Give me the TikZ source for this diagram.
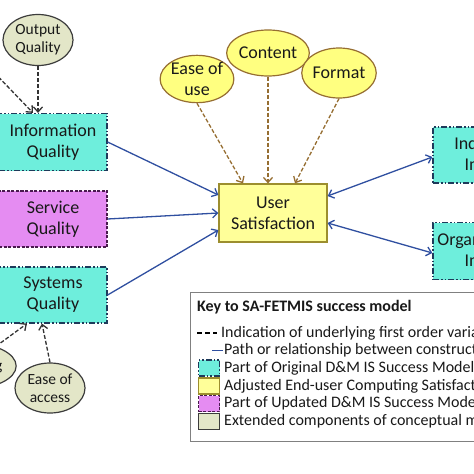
\documentclass[tikz,border=0pt]{standalone}
\usepackage{fontspec}
\setmainfont{Carlito}
\usepackage{tikz}
\usetikzlibrary{shapes, arrows, positioning, calc, arrows.meta}

\definecolor{origfill}{RGB}{110,238,220}
\definecolor{origline}{RGB}{30,58,90}
\definecolor{updfill}{RGB}{229,140,242}
\definecolor{updline}{RGB}{74,26,78}
\definecolor{ecsfill}{RGB}{255,255,153}
\definecolor{ecsline}{RGB}{156,142,46}
\definecolor{varfill}{RGB}{255,255,128}
\definecolor{varline}{RGB}{150,110,50}
\definecolor{extfill}{RGB}{227,230,200}
\definecolor{extline}{RGB}{60,60,60}
\definecolor{relblue}{RGB}{47,79,160}
\definecolor{keyline}{RGB}{128,128,128}
\definecolor{txt}{RGB}{25,25,25}

\newcommand{\mainfs}{\fontsize{18}{21}\selectfont}
\newcommand{\ellfs}{\fontsize{15.5}{18}\selectfont}
\newcommand{\keyfs}{\fontsize{16}{19}\selectfont}

\begin{document}
\begin{tikzpicture}[
    x=1pt, y=-1pt,
    box/.style={rectangle, line width=1.2pt, text=txt, align=center, font=\mainfs, minimum width=108pt, minimum height=57pt},
    origbox/.style={box, draw=origline, fill=origfill, dash pattern=on 6pt off 2pt on 1.5pt off 2pt on 1.5pt off 2pt},
    updbox/.style={box, draw=updline, fill=updfill, dash pattern=on 3pt off 1.5pt},
    ecsbox/.style={box, draw=ecsline, fill=ecsfill},
    varell/.style={ellipse, draw=varline, fill=varfill, line width=1.2pt, text=txt, align=center, font=\mainfs, inner sep=0pt},
    extell/.style={ellipse, draw=extline, fill=extfill, line width=1.2pt, text=txt, align=center, font=\ellfs, inner sep=0pt},
    relarrow/.style={-{Straight Barb[length=5pt,width=9pt]}, draw=relblue, line width=1.3pt},
    subarrow/.style={-{Straight Barb[length=5pt,width=9pt]}, draw=black!80, line width=1.3pt, dash pattern=on 4pt off 2pt},
    varsub/.style={subarrow, draw=varline},
    keytext/.style={anchor=west, text=txt, font=\keyfs, inner sep=0pt}
]
    \useasboundingbox (0,0) rectangle (474,474);
    \clip (0,0) rectangle (474,474);

    % Original D&M constructs
    \node[origbox] (infoq) at (53,142) {Information\\Quality};
    \node[updbox, minimum height=56pt] (servq) at (53,219) {Service\\Quality};
    \node[origbox, minimum height=56pt] (sysq) at (53,295) {Systems\\Quality};
    \node[ecsbox, minimum height=58pt] (usersat) at (273,213) {User\\Satisfaction};
    \node[origbox, minimum width=114pt, minimum height=56pt] (indimp) at (490,155) {Individual\\Impact};
    \node[origbox, minimum width=114pt] (orgimp) at (490,251) {Organizational\\Impact};

    % first order variables
    \node[extell, minimum width=70pt, minimum height=51pt] (outq) at (38,40) {Output\\Quality};
    \node[extell, minimum width=70pt, minimum height=50pt] (easeacc) at (50,388) {Ease of\\access};
    \node[extell, minimum width=92pt, minimum height=46pt] (procg) at (-31,366) {Processing};
    \coordinate (offleft) at (-14,64);
    \node[varell, minimum width=71pt, minimum height=42pt] (easeuse) at (197,79) {Ease of\\use};
    \node[varell, minimum width=68pt, minimum height=46pt] (content) at (268,53) {Content};
    \node[varell, minimum width=70pt, minimum height=50pt] (format) at (339,73) {Format};

    % underlying variables
    \draw[subarrow] (outq.south) -- (outq.south |- infoq.north);
    \draw[subarrow] (offleft) -- ([xshift=-20pt]infoq.north);
    \draw[subarrow] (easeacc.north) -- ([xshift=-11pt]sysq.south);
    \draw[subarrow] (procg) -- ([xshift=-26pt]sysq.south);
    \draw[varsub] (easeuse.south) -- ([xshift=-30pt]usersat.north);
    \draw[varsub] (content.south) -- (content.south |- usersat.north);
    \draw[varsub] (format.south) -- ([xshift=22pt]usersat.north);

    % paths
    \draw[relarrow] (infoq.east) -- ([yshift=18pt]usersat.west);
    \draw[relarrow] (servq.east) -- (usersat.west);
    \draw[relarrow] (sysq.east) -- ([yshift=-17pt]usersat.west);
    \draw[relarrow, {Straight Barb[length=5pt,width=9pt]}-{Straight Barb[length=5pt,width=9pt]}] ([yshift=17pt]usersat.east) -- ([yshift=-2pt]indimp.west);
    \draw[relarrow, {Straight Barb[length=5pt,width=9pt]}-{Straight Barb[length=5pt,width=9pt]}] ([yshift=-10pt]usersat.east) -- ([yshift=-2pt]orgimp.west);

    % Key
    \node[draw=keyline, line width=1pt, fill=white, minimum width=420pt, minimum height=149pt, anchor=north west] (keybox) at (190,292) {};
    \node[keytext, font=\keyfs\bfseries] (keytitle) at (197,307) {Key to SA-FETMIS success model};
    \coordinate (dashA) at (197,333);
    \coordinate (dashB) at (217,333);
    \draw[black, line width=1.8pt, dash pattern=on 5pt off 3pt] (dashA) -- (dashB);
    \node[keytext] (keyvar) at (221,333) {Indication of underlying first order variables};
    \coordinate (lineA) at (212,350.5);
    \coordinate (lineB) at (223,350.5);
    \draw[relblue, line width=1.3pt] (lineA) -- (lineB);
    \node[keytext] (keypath) at (224,350.5) {Path or relationship between constructs};
    \node[origbox, minimum width=21pt, minimum height=16pt, anchor=west] (keyorig) at (198,368) {};
    \node[keytext] (keyorigt) at (224,368) {Part of Original D\&M IS Success Model};
    \node[ecsbox, minimum width=21pt, minimum height=16pt, anchor=west] (keyecs) at (198,386) {};
    \node[keytext] (keyecst) at (224,386) {Adjusted End-user Computing Satisfaction};
    \node[updbox, minimum width=21pt, minimum height=16pt, anchor=west] (keyupd) at (198,403.5) {};
    \node[keytext] (keyupdt) at (224,403.5) {Part of Updated D\&M IS Success Model};
    \node[box, draw=extline, fill=extfill, line width=1pt, minimum width=21pt, minimum height=16pt, anchor=west] (keyext) at (198,421) {};
    \node[keytext] (keyextt) at (224,421) {Extended components of conceptual model};
\end{tikzpicture}
\end{document}
